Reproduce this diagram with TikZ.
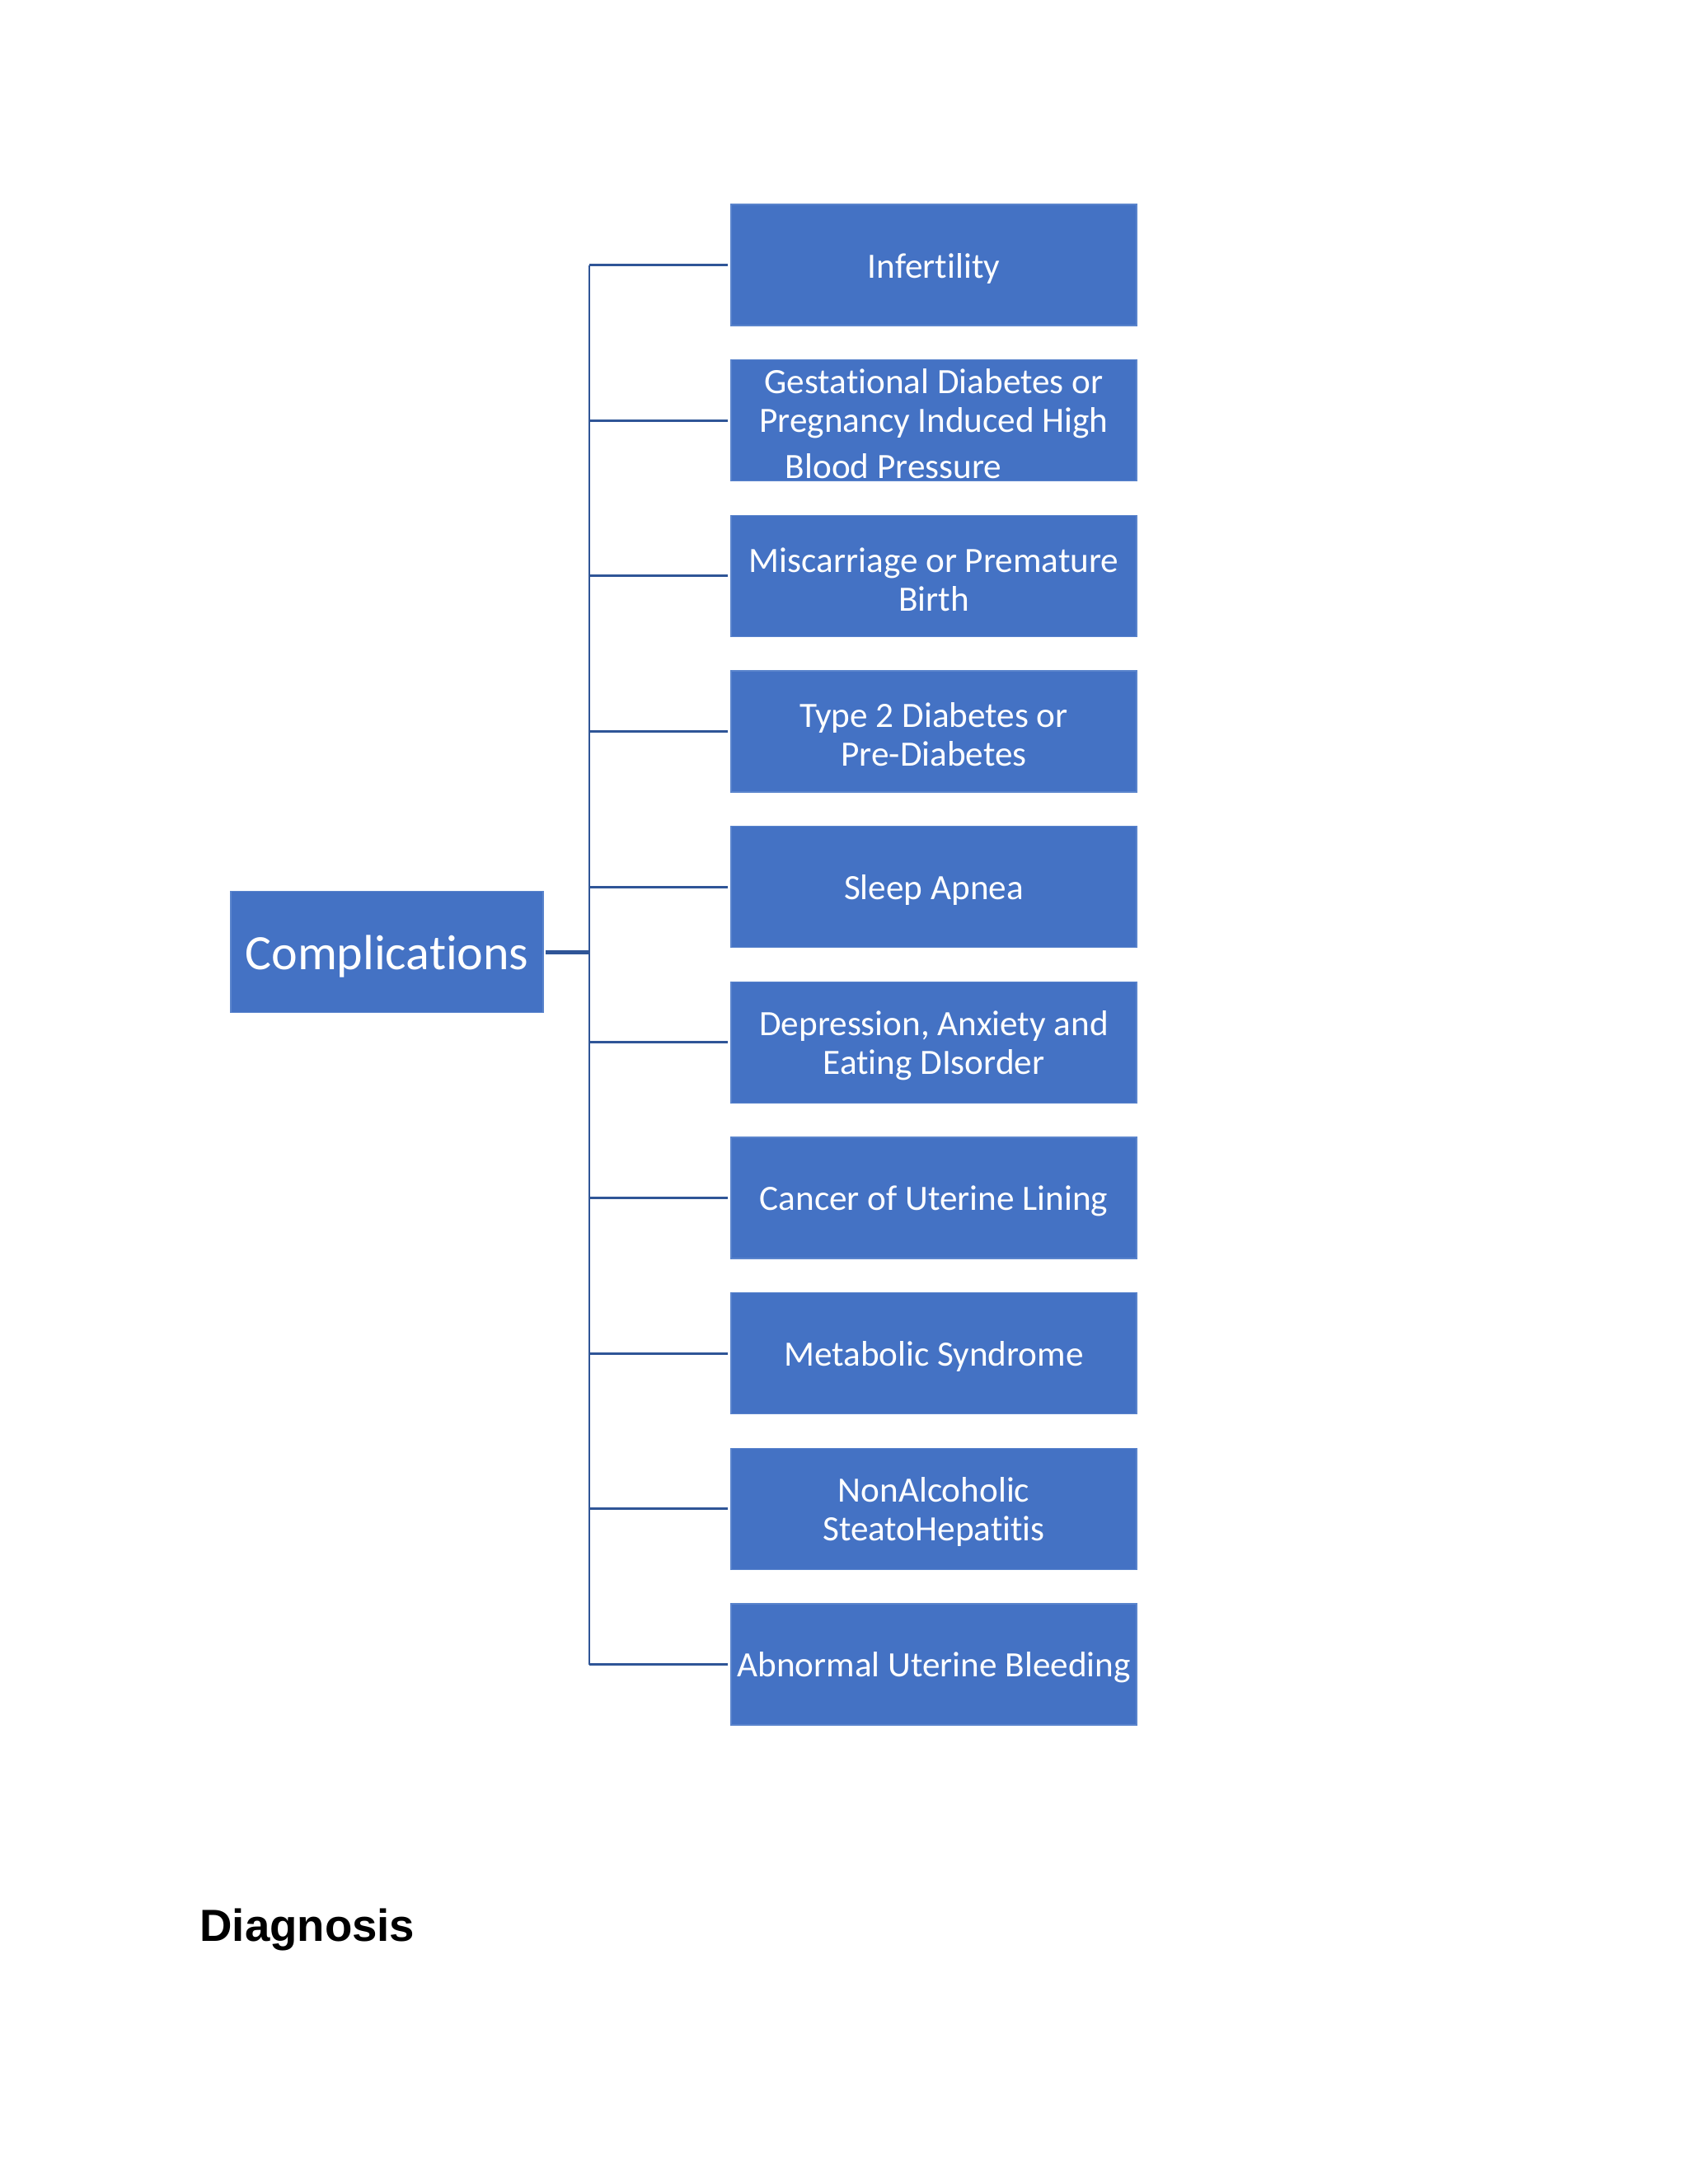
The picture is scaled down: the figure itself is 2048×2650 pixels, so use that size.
\documentclass[tikz,border=0pt]{standalone}
\usepackage{fontspec}
\setmainfont{Carlito}[Ligatures=NoCommon]
\newfontfamily\arialfont{Liberation Sans}
\definecolor{boxblue}{HTML}{4472C4}
\definecolor{edgeblue}{HTML}{5A84CC}
\definecolor{linkblue}{HTML}{2F5597}
\begin{document}
\begin{tikzpicture}[x=0.5pt,y=-0.5pt,
  itembox/.style={fill=boxblue,draw=edgeblue,line width=0.6pt,
    minimum width=246pt,minimum height=73.5pt,inner sep=0pt,outer sep=0pt},
  itemtext/.style={text=white,inner sep=0pt,align=center,yshift=-2pt,
    font=\fontsize{21.6}{23.5}\selectfont},
  mainbox/.style={fill=boxblue,draw=edgeblue,line width=0.6pt,
    minimum width=189.5pt,minimum height=73.5pt,inner sep=0pt,outer sep=0pt},
  maintext/.style={text=white,inner sep=0pt,yshift=-2.5pt,
    font=\fontsize{30}{36}\selectfont},
  conn/.style={draw=linkblue,line width=1.4pt},
  trunk/.style={draw=linkblue,line width=2.5pt}]
\useasboundingbox (0,0) rectangle (2048,2650);
\fill[white] (0,0) rectangle (2048,2650);

\node[mainbox,label={[maintext]center:Complications}] (comp) at (469.5,1155) {};

\node[itembox,label={[itemtext]center:Infertility}] (b1) at (1133,321.5) {};
\node[itembox,label={[itemtext]center:{Gestational Diabetes or\\Pregnancy Induced High\\[4.5pt]\hspace*{-49pt}Blood Pressure}}] (b2) at (1133,510.2) {};
\node[itembox,label={[itemtext]center:{Miscarriage or Premature\\Birth}}] (b3) at (1133,698.8) {};
\node[itembox,label={[itemtext]center:{Type 2 Diabetes or\\Pre-Diabetes}}] (b4) at (1133,887.5) {};
\node[itembox,label={[itemtext]center:Sleep Apnea}] (b5) at (1133,1076.2) {};
\node[itembox,label={[itemtext]center:{Depression, Anxiety and\\Eating DIsorder}}] (b6) at (1133,1264.8) {};
\node[itembox,label={[itemtext]center:Cancer of Uterine Lining}] (b7) at (1133,1453.5) {};
\node[itembox,label={[itemtext]center:Metabolic Syndrome}] (b8) at (1133,1642.2) {};
\node[itembox,label={[itemtext]center:{NonAlcoholic\\SteatoHepatitis}}] (b9) at (1133,1830.8) {};
\node[itembox,label={[itemtext]center:Abnormal Uterine Bleeding}] (b10) at (1133,2019.5) {};

\foreach \i in {1,...,10}{
  \coordinate (j\i) at (715,0 |- b\i.west);
  \draw[conn] (j\i) -- ([xshift=-2pt]b\i.west);
}
\draw[conn] (j1) -- (j10);
\coordinate (jc) at (715,0 |- comp.east);
\draw[trunk] ([xshift=1.5pt]comp.east) -- (jc);

\node[anchor=base west,inner sep=0pt,font=\arialfont\bfseries\fontsize{27.3}{32}\selectfont] (diag) at (242,2355) {Diagnosis};
\end{tikzpicture}
\end{document}
